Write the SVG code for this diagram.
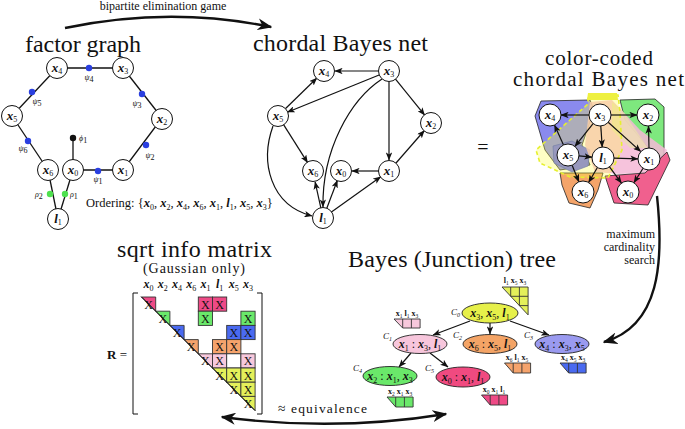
<svg xmlns="http://www.w3.org/2000/svg" width="685" height="429" viewBox="0 0 685 429">
<style>
text{font-family:"Liberation Serif","DejaVu Serif",serif;fill:#111}
.ti{font-size:24px}
.b{font-style:italic;font-weight:bold}
.s{font-size:8px;font-style:normal;font-weight:normal}
.n{font-size:13px}
.t12{font-size:12px}
.g{font-size:8px;font-style:italic}
.nd{fill:#fff;stroke:#111;stroke-width:1}
.fe{stroke:#111;stroke-width:1.3;fill:none}
.e{stroke:#111;stroke-width:1.2;fill:none;marker-end:url(#ah)}
.fb{fill:#2a3fe0}
.fg{fill:#4ee04e}
.c{stroke:#333;stroke-width:0.9}
.X{font-family:"Liberation Sans","DejaVu Sans",sans-serif;font-size:12px;text-anchor:middle}
.red{fill:#ee4a86}.grn{fill:#6ae86a}.blu{fill:#4a6af0}.org{fill:#f5a36c}.pnk{fill:#f7c8dc}.yel{fill:#e4f05a}
.ml{font-size:8px;font-weight:bold;text-anchor:middle}
.ss{font-size:5.5px;font-weight:normal}
.big{stroke:#111;stroke-width:2.4;fill:none}
</style>
<defs>
<marker id="ah" viewBox="0 0 10 8" refX="9.5" refY="4" markerWidth="8" markerHeight="6.4" orient="auto" markerUnits="userSpaceOnUse"><path d="M0,0 L10,4 L0,8 L2.5,4z" fill="#111"/></marker>
<marker id="bh" viewBox="0 0 10 8" refX="9" refY="4" markerWidth="15" markerHeight="12" orient="auto-start-reverse" markerUnits="userSpaceOnUse"><path d="M0,0 L10,4 L0,8 L3,4z" fill="#111"/></marker>
</defs>

<!-- titles -->
<text x="163" y="10" font-size="12" text-anchor="middle">bipartite elimination game</text>
<text x="25" y="52" class="ti" textLength="116">factor graph</text>
<text x="253" y="51" class="ti" textLength="175">chordal Bayes net</text>
<text x="545" y="65" font-size="21" textLength="108">color-coded</text>
<text x="513" y="86" font-size="21" textLength="171">chordal Bayes net</text>
<text x="117" y="257" class="ti" textLength="155">sqrt info matrix</text>
<text x="143" y="273" font-size="14" textLength="102">(Gaussian only)</text>
<text x="348" y="267" class="ti" textLength="208">Bayes (Junction) tree</text>
<text x="483" y="154" font-size="20" text-anchor="middle">=</text>
<text x="655" y="238" font-size="12" text-anchor="end">maximum</text>
<text x="655" y="251" font-size="12" text-anchor="end">cardinality</text>
<text x="655" y="264" font-size="12" text-anchor="end">search</text>
<text x="278" y="413" font-size="13.5" textLength="89">≈ equivalence</text>

<!-- connectors (big arrows) -->
<g id="connectors">
<path class="big" d="M65,28 Q170,6 271,27" marker-end="url(#bh)"/>
<path class="big" d="M657,196 C664,262 660,326 604,342" marker-end="url(#bh)"/>
<path class="big" d="M222,417 Q335,432 446,414" marker-start="url(#bh)" marker-end="url(#bh)"/>
</g>

<!-- factor graph -->
<g id="factor-graph">
<g class="fe">
<line x1="57" y1="68" x2="123" y2="68"/>
<line x1="123" y1="68" x2="162" y2="118"/>
<line x1="162" y1="118" x2="123" y2="170"/>
<line x1="123" y1="170" x2="73" y2="170"/>
<line x1="73" y1="170" x2="73" y2="138"/>
<line x1="57" y1="68" x2="12" y2="116"/>
<line x1="12" y1="116" x2="48" y2="170"/>
<line x1="48" y1="170" x2="58" y2="219"/>
<line x1="73" y1="170" x2="58" y2="219"/>
</g>
<circle class="fb" cx="89" cy="68" r="3.2"/>
<circle class="fb" cx="142" cy="94" r="3.2"/>
<circle class="fb" cx="32" cy="92" r="3.2"/>
<circle class="fb" cx="28" cy="141" r="3.2"/>
<circle class="fb" cx="146" cy="145" r="3.2"/>
<circle class="fb" cx="98" cy="171" r="3.2"/>
<circle cx="73" cy="138" r="3.2" fill="#111"/>
<circle class="fg" cx="50" cy="194" r="3.2"/>
<circle class="fg" cx="65" cy="194" r="3.2"/>
<text class="g" x="89" y="80" text-anchor="middle">ψ<tspan class="s" font-size="5.5" dy="1.5">4</tspan></text>
<text class="g" x="137" y="106" text-anchor="middle">ψ<tspan class="s" font-size="5.5" dy="1.5">3</tspan></text>
<text class="g" x="37" y="104" text-anchor="middle">ψ<tspan class="s" font-size="5.5" dy="1.5">5</tspan></text>
<text class="g" x="23" y="151" text-anchor="middle">ψ<tspan class="s" font-size="5.5" dy="1.5">6</tspan></text>
<text class="g" x="150" y="158" text-anchor="middle">ψ<tspan class="s" font-size="5.5" dy="1.5">2</tspan></text>
<text class="g" x="98" y="182" text-anchor="middle">ψ<tspan class="s" font-size="5.5" dy="1.5">1</tspan></text>
<text class="g" x="79" y="141">ϕ<tspan class="s" font-size="5.5" dy="1.5">1</tspan></text>
<text class="g" x="35" y="197">ρ<tspan class="s" font-size="5.5" dy="1.5">2</tspan></text>
<text class="g" x="70" y="197">ρ<tspan class="s" font-size="5.5" dy="1.5">1</tspan></text>
<g id="f-x4"><circle class="nd" cx="57" cy="68" r="10.5"/><text class="n" x="57" y="71.5" text-anchor="middle"><tspan class="b">x</tspan><tspan class="s" dy="2.5">4</tspan></text></g>
<g id="f-x3"><circle class="nd" cx="123" cy="68" r="10.5"/><text class="n" x="123" y="71.5" text-anchor="middle"><tspan class="b">x</tspan><tspan class="s" dy="2.5">3</tspan></text></g>
<g id="f-x5"><circle class="nd" cx="12" cy="116" r="10.5"/><text class="n" x="12" y="119.5" text-anchor="middle"><tspan class="b">x</tspan><tspan class="s" dy="2.5">5</tspan></text></g>
<g id="f-x2"><circle class="nd" cx="162" cy="119" r="10.5"/><text class="n" x="162" y="122.5" text-anchor="middle"><tspan class="b">x</tspan><tspan class="s" dy="2.5">2</tspan></text></g>
<g id="f-x6"><circle class="nd" cx="48" cy="170" r="10.5"/><text class="n" x="48" y="173.5" text-anchor="middle"><tspan class="b">x</tspan><tspan class="s" dy="2.5">6</tspan></text></g>
<g id="f-x0"><circle class="nd" cx="73" cy="170" r="10.5"/><text class="n" x="73" y="173.5" text-anchor="middle"><tspan class="b">x</tspan><tspan class="s" dy="2.5">0</tspan></text></g>
<g id="f-x1"><circle class="nd" cx="123" cy="170" r="10.5"/><text class="n" x="123" y="173.5" text-anchor="middle"><tspan class="b">x</tspan><tspan class="s" dy="2.5">1</tspan></text></g>
<g id="f-l1"><circle class="nd" cx="58" cy="219" r="10.5"/><text class="n" x="58" y="222.5" text-anchor="middle"><tspan class="b">l</tspan><tspan class="s" dy="2.5">1</tspan></text></g>
<text x="86" y="207" font-size="12.5">Ordering: {<tspan class="b">x</tspan><tspan class="s" dy="3">0</tspan><tspan dy="-3">, </tspan><tspan class="b">x</tspan><tspan class="s" dy="3">2</tspan><tspan dy="-3">, </tspan><tspan class="b">x</tspan><tspan class="s" dy="3">4</tspan><tspan dy="-3">, </tspan><tspan class="b">x</tspan><tspan class="s" dy="3">6</tspan><tspan dy="-3">, </tspan><tspan class="b">x</tspan><tspan class="s" dy="3">1</tspan><tspan dy="-3">, </tspan><tspan class="b">l</tspan><tspan class="s" dy="3">1</tspan><tspan dy="-3">, </tspan><tspan class="b">x</tspan><tspan class="s" dy="3">5</tspan><tspan dy="-3">, </tspan><tspan class="b">x</tspan><tspan class="s" dy="3">3</tspan><tspan dy="-3">}</tspan></text>
</g>

<!-- chordal Bayes net -->
<g id="chordal-edges">
<line class="e" x1="378" y1="71" x2="335" y2="71"/>
<line class="e" x1="379.7" y1="74.8" x2="287.3" y2="112.2"/>
<line class="e" x1="285.1" y1="109" x2="316.9" y2="78"/>
<line class="e" x1="395.3" y1="78.8" x2="424.7" y2="115.2"/>
<line class="e" x1="389" y1="82" x2="389" y2="160"/>
<path class="e" d="M382,79 C350,100 322,150 323,207"/>
<path class="e" d="M273,126 C260,162 270,205 312,216"/>
<line class="e" x1="283.4" y1="124.4" x2="307.6" y2="162.6"/>
<line class="e" x1="320.9" y1="208.2" x2="315.1" y2="181.8"/>
<line class="e" x1="326.6" y1="208.7" x2="337.4" y2="180.3"/>
<line class="e" x1="379" y1="171" x2="352" y2="171"/>
<line class="e" x1="331.1" y1="212.2" x2="380.8" y2="176.8"/>
<line class="e" x1="395.6" y1="163.5" x2="424.4" y2="130.5"/>
</g>
<g id="c-x4"><circle class="nd" cx="324" cy="71" r="10.5"/><text class="n" x="324" y="74.5" text-anchor="middle"><tspan class="b">x</tspan><tspan class="s" dy="2.5">4</tspan></text></g>
<g id="c-x3"><circle class="nd" cx="389" cy="71" r="10.5"/><text class="n" x="389" y="74.5" text-anchor="middle"><tspan class="b">x</tspan><tspan class="s" dy="2.5">3</tspan></text></g>
<g id="c-x5"><circle class="nd" cx="278" cy="116" r="10.5"/><text class="n" x="278" y="119.5" text-anchor="middle"><tspan class="b">x</tspan><tspan class="s" dy="2.5">5</tspan></text></g>
<g id="c-x2"><circle class="nd" cx="431" cy="123" r="10.5"/><text class="n" x="431" y="126.5" text-anchor="middle"><tspan class="b">x</tspan><tspan class="s" dy="2.5">2</tspan></text></g>
<g id="c-x6"><circle class="nd" cx="313" cy="171" r="10.5"/><text class="n" x="313" y="174.5" text-anchor="middle"><tspan class="b">x</tspan><tspan class="s" dy="2.5">6</tspan></text></g>
<g id="c-x0"><circle class="nd" cx="341" cy="171" r="10.5"/><text class="n" x="341" y="174.5" text-anchor="middle"><tspan class="b">x</tspan><tspan class="s" dy="2.5">0</tspan></text></g>
<g id="c-x1"><circle class="nd" cx="389" cy="171" r="10.5"/><text class="n" x="389" y="174.5" text-anchor="middle"><tspan class="b">x</tspan><tspan class="s" dy="2.5">1</tspan></text></g>
<g id="c-l1"><circle class="nd" cx="323" cy="218" r="10.5"/><text class="n" x="323" y="221.5" text-anchor="middle"><tspan class="b">l</tspan><tspan class="s" dy="2.5">1</tspan></text></g>

<!-- color-coded chordal Bayes net -->
<g id="cliques">
<polygon points="541,101 590,100 594,110 582,145 590,165 560,170 545,150 535,116" fill="#8a8aee" stroke="#222" stroke-width="0.8"/>
<polygon points="553,146 572,141 590,150 588,166 572,172 554,163" fill="#6a6af4" stroke="#3344cc" stroke-width="0.6"/>
<polygon points="620,100 655,99 664,107 664,158 650,150 625,120" fill="#7ee87e" stroke="#222" stroke-width="0.8"/>
<polygon points="590,102 612,100 640,130 667,150 660,172 620,174 595,172 585,145" fill="#f5b8d6" fill-opacity="0.85"/>
<polygon points="612,102 622,110 648,148 630,148 612,130" fill="#ecdcb0" fill-opacity="0.8"/>
<polygon points="560,173 603,173 598,190 590,208 569,203 562,185" fill="#f4a46a" stroke="#222" stroke-width="0.8"/>
<polygon points="605,176 645,173 667,152 670,160 648,205 614,203" fill="#f0608e" stroke="#222" stroke-width="0.8"/>
<polygon points="588,95 618,95 620,112 622,150 608,178 570,177 540,163 536,150 588,104" fill="#ffff40" fill-opacity="0.3" stroke="#e6f030" stroke-width="1.6" stroke-dasharray="4,3"/>
<polygon points="588,93 617,93 618,100 587,100" fill="#eef040"/>
</g>
<g id="cc-edges">
<line class="e" x1="589" y1="115" x2="561" y2="115"/>
<line class="e" x1="611" y1="115" x2="637" y2="115"/>
<line class="e" x1="593.1" y1="123.6" x2="574.9" y2="146.4"/>
<line class="e" x1="600.8" y1="126" x2="602.2" y2="147"/>
<line class="e" x1="608.2" y1="122.3" x2="640.8" y2="151.6"/>
<line class="e" x1="563.5" y1="145" x2="554.5" y2="125"/>
<line class="e" x1="579" y1="155.9" x2="592" y2="157.1"/>
<line class="e" x1="572.1" y1="165.2" x2="578.9" y2="181.8"/>
<line class="e" x1="597.4" y1="167.5" x2="588.6" y2="182.5"/>
<line class="e" x1="609.5" y1="166.9" x2="621.5" y2="183.1"/>
<line class="e" x1="614" y1="158.2" x2="638" y2="158.8"/>
<line class="e" x1="643.1" y1="168.3" x2="633.9" y2="182.7"/>
<line class="e" x1="649" y1="148" x2="648.5" y2="126"/>
</g>
<g id="cc-x4"><circle class="nd" cx="550" cy="115" r="11"/><text class="n" x="550" y="118.5" text-anchor="middle"><tspan class="b">x</tspan><tspan class="s" dy="2.5">4</tspan></text></g>
<g id="cc-x3"><circle class="nd" cx="600" cy="115" r="11"/><text class="n" x="600" y="118.5" text-anchor="middle"><tspan class="b">x</tspan><tspan class="s" dy="2.5">3</tspan></text></g>
<g id="cc-x2"><circle class="nd" cx="648" cy="115" r="11"/><text class="n" x="648" y="118.5" text-anchor="middle"><tspan class="b">x</tspan><tspan class="s" dy="2.5">2</tspan></text></g>
<g id="cc-x5"><circle class="nd" cx="568" cy="155" r="11"/><text class="n" x="568" y="158.5" text-anchor="middle"><tspan class="b">x</tspan><tspan class="s" dy="2.5">5</tspan></text></g>
<g id="cc-l1"><circle class="nd" cx="603" cy="158" r="11"/><text class="n" x="603" y="161.5" text-anchor="middle"><tspan class="b">l</tspan><tspan class="s" dy="2.5">1</tspan></text></g>
<g id="cc-x1"><circle class="nd" cx="649" cy="159" r="11"/><text class="n" x="649" y="162.5" text-anchor="middle"><tspan class="b">x</tspan><tspan class="s" dy="2.5">1</tspan></text></g>
<g id="cc-x6"><circle class="nd" cx="583" cy="192" r="11"/><text class="n" x="583" y="195.5" text-anchor="middle"><tspan class="b">x</tspan><tspan class="s" dy="2.5">6</tspan></text></g>
<g id="cc-x0"><circle class="nd" cx="628" cy="192" r="11"/><text class="n" x="628" y="195.5" text-anchor="middle"><tspan class="b">x</tspan><tspan class="s" dy="2.5">0</tspan></text></g>

<!-- sqrt info matrix -->
<g id="matrix">
<g class="t12">
<text x="148.6" y="288" text-anchor="middle"><tspan class="b">x</tspan><tspan class="s" dy="2.5">0</tspan></text>
<text x="162.8" y="288" text-anchor="middle"><tspan class="b">x</tspan><tspan class="s" dy="2.5">2</tspan></text>
<text x="177" y="288" text-anchor="middle"><tspan class="b">x</tspan><tspan class="s" dy="2.5">4</tspan></text>
<text x="191.2" y="288" text-anchor="middle"><tspan class="b">x</tspan><tspan class="s" dy="2.5">6</tspan></text>
<text x="205.4" y="288" text-anchor="middle"><tspan class="b">x</tspan><tspan class="s" dy="2.5">1</tspan></text>
<text x="219.6" y="288" text-anchor="middle"><tspan class="b">l</tspan><tspan class="s" dy="2.5">1</tspan></text>
<text x="233.8" y="288" text-anchor="middle"><tspan class="b">x</tspan><tspan class="s" dy="2.5">5</tspan></text>
<text x="248" y="288" text-anchor="middle"><tspan class="b">x</tspan><tspan class="s" dy="2.5">3</tspan></text>
</g>
<text x="107" y="359" font-size="13" font-weight="bold">R <tspan font-weight="normal">=</tspan></text>
<path d="M138,293 H133 V414 H138 M257,293 H262 V414 H257" fill="none" stroke="#111" stroke-width="1"/>
<g class="c">
<polygon class="red" points="141.5,297 155.7,297 155.7,311.2"/>
<rect class="red" x="198.3" y="297" width="14.2" height="14.2"/>
<rect class="red" x="212.5" y="297" width="14.2" height="14.2"/>
<polygon class="grn" points="155.7,311.2 169.9,311.2 169.9,325.4"/>
<rect class="grn" x="198.3" y="311.2" width="14.2" height="14.2"/>
<rect class="grn" x="240.9" y="311.2" width="14.2" height="14.2"/>
<polygon class="blu" points="169.9,325.4 184.1,325.4 184.1,339.6"/>
<rect class="blu" x="226.7" y="325.4" width="14.2" height="14.2"/>
<rect class="blu" x="240.9" y="325.4" width="14.2" height="14.2"/>
<polygon class="org" points="184.1,339.6 198.3,339.6 198.3,353.8"/>
<rect class="org" x="212.5" y="339.6" width="14.2" height="14.2"/>
<rect class="org" x="226.7" y="339.6" width="14.2" height="14.2"/>
<polygon class="pnk" points="198.3,353.8 212.5,353.8 212.5,368"/>
<rect class="pnk" x="212.5" y="353.8" width="14.2" height="14.2"/>
<rect x="226.7" y="353.8" width="14.2" height="14.2" fill="#fff"/>
<rect class="pnk" x="240.9" y="353.8" width="14.2" height="14.2"/>
<polygon class="yel" points="212.5,368 226.7,368 226.7,382.2"/>
<rect class="yel" x="226.7" y="368" width="14.2" height="14.2"/>
<rect class="yel" x="240.9" y="368" width="14.2" height="14.2"/>
<polygon class="yel" points="226.7,382.2 240.9,382.2 240.9,396.4"/>
<rect class="yel" x="240.9" y="382.2" width="14.2" height="14.2"/>
<polygon class="yel" points="240.9,396.4 255.1,396.4 255.1,410.6"/>
</g>
<line x1="141" y1="296.5" x2="255.1" y2="410.6" stroke="#111" stroke-width="1"/>
<g class="X">
<text x="148.6" y="308.5">X</text><text x="205.4" y="308.5">X</text><text x="219.6" y="308.5">X</text>
<text x="162.8" y="322.7">X</text><text x="205.4" y="322.7">X</text><text x="248" y="322.7">X</text>
<text x="177" y="336.9">X</text><text x="233.8" y="336.9">X</text><text x="248" y="336.9">X</text>
<text x="191.2" y="351.1">X</text><text x="219.6" y="351.1">X</text><text x="233.8" y="351.1">X</text>
<text x="205.4" y="365.3">X</text><text x="219.6" y="365.3">X</text><text x="248" y="365.3">X</text>
<text x="219.6" y="379.5">X</text><text x="233.8" y="379.5">X</text><text x="248" y="379.5">X</text>
<text x="233.8" y="393.7">X</text><text x="248" y="393.7">X</text>
<text x="248" y="407.9">X</text>
</g>
</g>

<!-- Bayes tree -->
<g id="tree-edges">
<line class="e" x1="470" y1="321" x2="433" y2="335"/>
<line class="e" x1="490" y1="323" x2="490" y2="334"/>
<line class="e" x1="510" y1="321" x2="549" y2="335"/>
<line class="e" x1="411" y1="353" x2="399" y2="367"/>
<line class="e" x1="430" y1="353" x2="448" y2="367"/>
</g>
<g id="C0"><ellipse cx="490" cy="313" rx="28" ry="10" fill="#e6f04a" stroke="#222" stroke-width="0.9"/>
<text class="t12" x="490" y="317" text-anchor="middle"><tspan class="b">x</tspan><tspan class="s" dy="2.5">3</tspan><tspan dy="-2.5">, </tspan><tspan class="b">x</tspan><tspan class="s" dy="2.5">5</tspan><tspan dy="-2.5">, </tspan><tspan class="b">l</tspan><tspan class="s" dy="2.5">1</tspan></text>
<text x="451" y="315" font-size="9" font-style="italic">C<tspan font-size="6" dy="2">0</tspan></text></g>
<g id="C1"><ellipse cx="420" cy="344" rx="27" ry="9.5" fill="#f7c6dc" stroke="#222" stroke-width="0.9"/>
<text class="t12" x="420" y="348" text-anchor="middle"><tspan class="b">x</tspan><tspan class="s" dy="2.5">1</tspan><tspan dy="-2.5"> : </tspan><tspan class="b">x</tspan><tspan class="s" dy="2.5">3</tspan><tspan dy="-2.5">, </tspan><tspan class="b">l</tspan><tspan class="s" dy="2.5">1</tspan></text>
<text x="383" y="339" font-size="9" font-style="italic">C<tspan font-size="6" dy="2">1</tspan></text></g>
<g id="C2"><ellipse cx="490" cy="344" rx="27" ry="9.5" fill="#f4a466" stroke="#222" stroke-width="0.9"/>
<text class="t12" x="490" y="348" text-anchor="middle"><tspan class="b">x</tspan><tspan class="s" dy="2.5">6</tspan><tspan dy="-2.5"> : </tspan><tspan class="b">x</tspan><tspan class="s" dy="2.5">5</tspan><tspan dy="-2.5">, </tspan><tspan class="b">l</tspan><tspan class="s" dy="2.5">1</tspan></text>
<text x="453" y="338" font-size="9" font-style="italic">C<tspan font-size="6" dy="2">2</tspan></text></g>
<g id="C3"><ellipse cx="562" cy="344" rx="27" ry="9.5" fill="#9a9af0" stroke="#222" stroke-width="0.9"/>
<text class="t12" x="562" y="348" text-anchor="middle"><tspan class="b">x</tspan><tspan class="s" dy="2.5">4</tspan><tspan dy="-2.5"> : </tspan><tspan class="b">x</tspan><tspan class="s" dy="2.5">3</tspan><tspan dy="-2.5">, </tspan><tspan class="b">x</tspan><tspan class="s" dy="2.5">5</tspan></text>
<text x="524" y="338" font-size="9" font-style="italic">C<tspan font-size="6" dy="2">3</tspan></text></g>
<g id="C4"><ellipse cx="390" cy="376" rx="27" ry="9.5" fill="#6ae86a" stroke="#222" stroke-width="0.9"/>
<text class="t12" x="390" y="380" text-anchor="middle"><tspan class="b">x</tspan><tspan class="s" dy="2.5">2</tspan><tspan dy="-2.5"> : </tspan><tspan class="b">x</tspan><tspan class="s" dy="2.5">1</tspan><tspan dy="-2.5">, </tspan><tspan class="b">x</tspan><tspan class="s" dy="2.5">3</tspan></text>
<text x="353" y="371" font-size="9" font-style="italic">C<tspan font-size="6" dy="2">4</tspan></text></g>
<g id="C5"><ellipse cx="463" cy="377" rx="27" ry="10" fill="#f04a80" stroke="#222" stroke-width="0.9"/>
<text class="t12" x="463" y="381" text-anchor="middle"><tspan class="b">x</tspan><tspan class="s" dy="2.5">0</tspan><tspan dy="-2.5"> : </tspan><tspan class="b">x</tspan><tspan class="s" dy="2.5">1</tspan><tspan dy="-2.5">, </tspan><tspan class="b">l</tspan><tspan class="s" dy="2.5">1</tspan></text>
<text x="425" y="371" font-size="9" font-style="italic">C<tspan font-size="6" dy="2">5</tspan></text></g>

<!-- mini matrices -->
<g id="mini" class="c">
<polygon class="yel" points="502,287 528.1,287 528.1,314.9"/>
<path d="M510.7,287 V296.3 H528.1 M519.4,287 V305.6 H528.1" fill="none"/>
<polygon class="pnk" points="394,319 420.1,319 420.1,328 402.7,328"/>
<path d="M402.7,319 V328 M411.4,319 V328"/>
<polygon class="org" points="504.5,363 530.6,363 530.6,373 513.2,373"/>
<path d="M513.2,363 V373 M521.9,363 V373"/>
<polygon class="blu" points="560,363 586.1,363 586.1,373 568.7,373"/>
<path d="M568.7,363 V373 M577.4,363 V373"/>
<polygon class="grn" points="387,397 413.1,397 413.1,407 395.7,407"/>
<path d="M395.7,397 V407 M404.4,397 V407"/>
<polygon class="red" points="481.5,395 507.6,395 507.6,405 490.2,405"/>
<path d="M490.2,395 V405 M498.9,395 V405"/>
</g>
<g id="mini-labels">
<text class="ml" x="515" y="283">l<tspan class="ss" dy="1.5">1</tspan><tspan dy="-1.5"> x</tspan><tspan class="ss" dy="1.5">5</tspan><tspan dy="-1.5"> x</tspan><tspan class="ss" dy="1.5">3</tspan></text>
<text class="ml" x="407" y="316">x<tspan class="ss" dy="1.5">1</tspan><tspan dy="-1.5"> l</tspan><tspan class="ss" dy="1.5">1</tspan><tspan dy="-1.5"> x</tspan><tspan class="ss" dy="1.5">3</tspan></text>
<text class="ml" x="517" y="360">x<tspan class="ss" dy="1.5">6</tspan><tspan dy="-1.5"> l</tspan><tspan class="ss" dy="1.5">1</tspan><tspan dy="-1.5"> x</tspan><tspan class="ss" dy="1.5">5</tspan></text>
<text class="ml" x="573" y="360">x<tspan class="ss" dy="1.5">4</tspan><tspan dy="-1.5"> x</tspan><tspan class="ss" dy="1.5">5</tspan><tspan dy="-1.5"> x</tspan><tspan class="ss" dy="1.5">3</tspan></text>
<text class="ml" x="400" y="394">x<tspan class="ss" dy="1.5">2</tspan><tspan dy="-1.5"> x</tspan><tspan class="ss" dy="1.5">1</tspan><tspan dy="-1.5"> x</tspan><tspan class="ss" dy="1.5">3</tspan></text>
<text class="ml" x="494" y="392">x<tspan class="ss" dy="1.5">0</tspan><tspan dy="-1.5"> x</tspan><tspan class="ss" dy="1.5">1</tspan><tspan dy="-1.5"> l</tspan><tspan class="ss" dy="1.5">1</tspan></text>
</g>
</svg>
